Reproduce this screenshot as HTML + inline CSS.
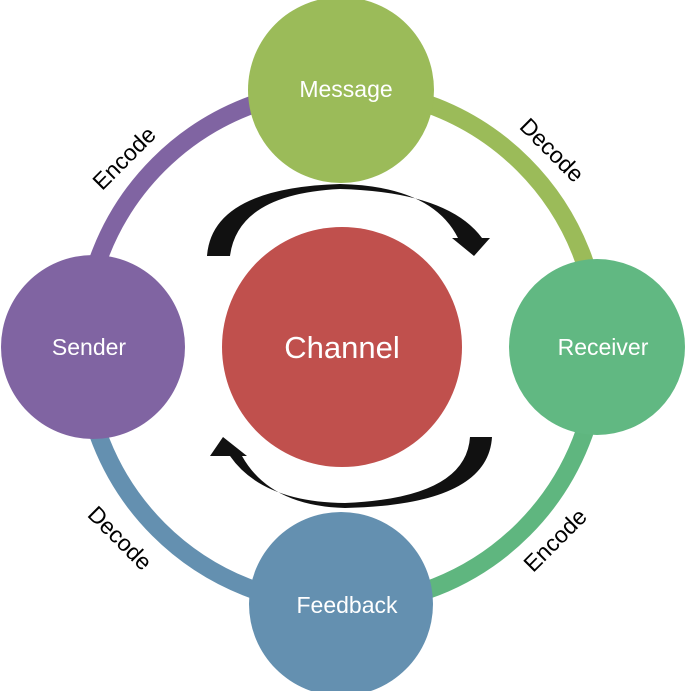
<!DOCTYPE html>
<html><head><style>body{margin:0;background:#fff}svg{display:block}</style></head><body>
<svg width="685" height="691" viewBox="0 0 685 691" xmlns="http://www.w3.org/2000/svg" font-family="Liberation Sans, sans-serif">
<g fill="none" stroke-width="18">
<path d="M83,347 A258,258 0 0 1 341,89" stroke="#8064a2"/>
<path d="M341,89 A258,258 0 0 1 599,347" stroke="#9bbb59"/>
<path d="M599,347 A258,258 0 0 1 341,605" stroke="#5fb67f"/>
<path d="M341,605 A258,258 0 0 1 83,347" stroke="#6490b0"/>
</g>
<circle cx="341" cy="90" r="93" fill="#9bbb59"/>
<circle cx="93" cy="347" r="92" fill="#8064a2"/>
<circle cx="597" cy="347" r="88" fill="#61b882"/>
<circle cx="341" cy="604" r="92" fill="#6490b0"/>
<circle cx="342" cy="347" r="120" fill="#c0504d"/>
<g fill="#111">
<path d="M207,256 Q212,188 340,184 Q432,186 458,238 L452,238 L474,256 L490,238 L482,238 Q448,192 340,189 Q238,194 230,256 Z"/>
<path d="M492,437 Q488,505 345,508 Q270,506 242,456 L247,456 L223,437 L210,456 L230,456 Q262,502 345,503 Q466,498 470,437 Z"/>
</g>
<g fill="#fff" text-anchor="middle">
<text x="346" y="97" font-size="23">Message</text>
<text x="89" y="355" font-size="23">Sender</text>
<text x="603" y="355" font-size="23">Receiver</text>
<text x="347" y="613" font-size="23">Feedback</text>
<text x="342" y="358" font-size="31">Channel</text>
</g>
<g fill="#000" font-size="23" text-anchor="middle">
<text transform="translate(124,158) rotate(-45)" y="8">Encode</text>
<text transform="translate(552,150) rotate(45)" y="8">Decode</text>
<text transform="translate(120,538) rotate(45)" y="8">Decode</text>
<text transform="translate(555,540) rotate(-45)" y="8">Encode</text>
</g>
</svg>
</body></html>
